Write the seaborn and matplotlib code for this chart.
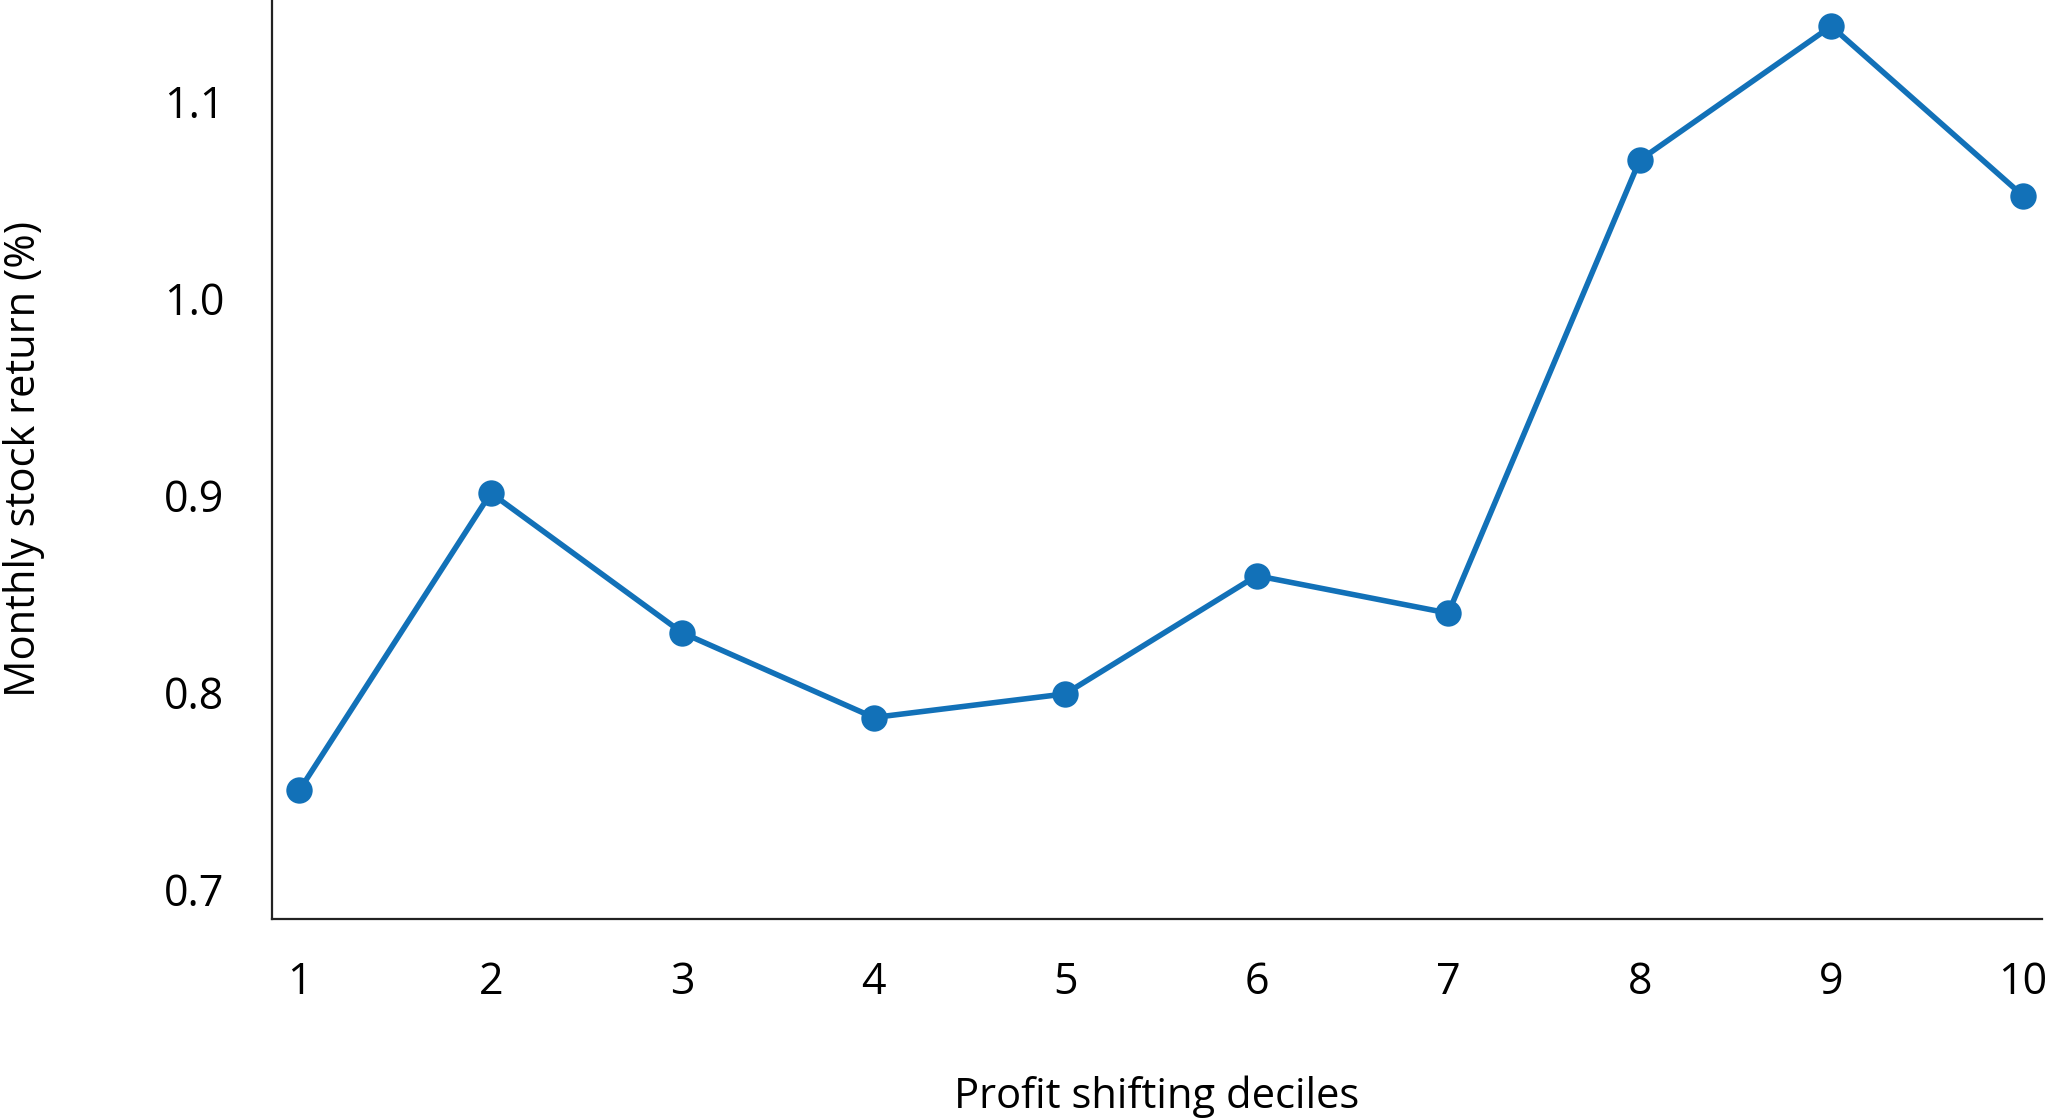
import numpy as np
import pandas as pd
import matplotlib
matplotlib.use("Agg")
import matplotlib.pyplot as plt
import seaborn as sns

# Data
deciles = [1, 2, 3, 4, 5, 6, 7, 8, 9, 10]
monthly_return = [0.75, 0.901, 0.83, 0.787, 0.799, 0.859, 0.84, 1.07, 1.138, 1.052]
y_ticks = [0.7, 0.8, 0.9, 1.0, 1.1]

LINE_COLOR = "#1271b8"

sns.set_theme(style="white")
plt.rcParams['font.family'] = ['Open Sans', 'DejaVu Sans']

df = pd.DataFrame({"decile": deciles, "ret": monthly_return})

fig = plt.figure(figsize=(20.48, 11.18), dpi=100)
ax = fig.add_axes([0.1327, 0.178, 0.8643, 0.822])

sns.lineplot(data=df, x="decile", y="ret", ax=ax, color=LINE_COLOR,
             linewidth=4, marker="o", markersize=19,
             markeredgewidth=0, markerfacecolor=LINE_COLOR)

ax.set_xlim(0.856, 10.10)
ax.set_ylim(0.6847, 1.1513)
ax.set_xticks(deciles)
ax.set_xticklabels([str(d) for d in deciles])
ax.set_yticks(y_ticks)
ax.set_yticklabels([f"{v:.1f}" for v in y_ticks])

ax.tick_params(axis="both", length=0, labelsize=31, colors="black")
ax.tick_params(axis="x", pad=30)
ax.tick_params(axis="y", pad=34)

for s in ["top", "right"]:
    ax.spines[s].set_visible(False)
for s in ["left", "bottom"]:
    ax.spines[s].set_color("#222222")
    ax.spines[s].set_linewidth(1.6)

ax.set_xlabel("Profit shifting deciles", fontsize=30, color="black", va="center")
ax.set_ylabel("Monthly stock return (%)", fontsize=30, color="black", va="center")
ax.xaxis.set_label_coords(0.50, -0.193)
ax.yaxis.set_label_coords(-0.140, 0.50)

fig.savefig("out.png", dpi=100, facecolor="white")
